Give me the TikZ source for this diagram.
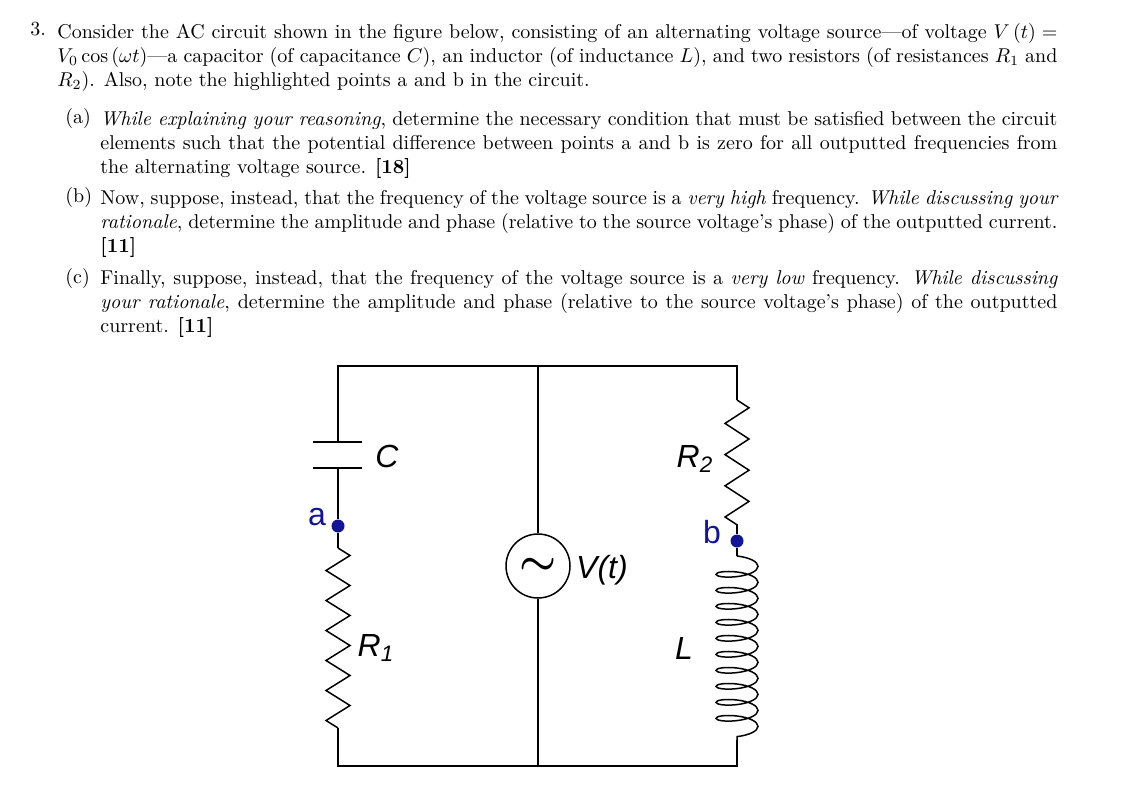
\documentclass[tikz,border=0pt]{standalone}
\usepackage{fontspec}
\usepackage{amsmath}
\newfontfamily\arialf{Liberation Sans}
\usetikzlibrary{decorations.pathmorphing,decorations.pathreplacing}
\definecolor{dotblue}{RGB}{20,20,150}
\begin{document}
\begin{tikzpicture}[x=0.5pt,y=-0.5pt,
  para/.style={anchor=north west,inner sep=0,align=justify,font=\normalsize},
  lbl/.style={font=\arialf\itshape\fontsize{16}{16}\selectfont,inner sep=0},
  ptl/.style={font=\arialf\fontsize{16}{16}\selectfont,text=dotblue,inner sep=0},
  wire/.style={line width=0.75pt},
  dot/.style={circle,fill=dotblue,inner sep=0,minimum size=6.5pt}]
\useasboundingbox (0,0) rectangle (1123,791);
% text
\node[anchor=base west,inner sep=0] (n3) at (30,36) {3.};
\node[para,text width=500pt] (intro) at (57,23) {Consider the AC circuit shown in the figure below, consisting of an alternating voltage source---of voltage $V\left(t\right)=$\linebreak $V_0\cos\left(\omega t\right)$---a capacitor (of capacitance $C$), an inductor (of inductance $L$), and two resistors (of resistances $R_1$ and\linebreak $R_2$). Also, note the highlighted points a and b in the circuit.};
\node[anchor=base west,inner sep=0] (la) at (65,124) {(a)};
\node[para,text width=478.5pt] (pa) at (100,111) {\textit{While explaining your reasoning}, determine the necessary condition that must be satisfied between the circuit\linebreak elements such that the potential difference between points a and b is zero for all outputted frequencies from\linebreak the alternating voltage source. \textbf{[18]}};
\node[anchor=base west,inner sep=0] (lb) at (65,203) {(b)};
\node[para,text width=478.5pt] (pb) at (100,190) {Now, suppose, instead, that the frequency of the voltage source is a \textit{very high} frequency. \textit{While discussing your\linebreak rationale}, determine the amplitude and phase (relative to the source voltage's phase) of the outputted current.\linebreak \textbf{[11]}};
\node[anchor=base west,inner sep=0] (lc) at (65,283) {(c)};
\node[para,text width=478.5pt] (pc) at (100,270) {Finally, suppose, instead, that the frequency of the voltage source is a \textit{very low} frequency. \textit{While discussing\linebreak your rationale}, determine the amplitude and phase (relative to the source voltage's phase) of the outputted\linebreak current. \textbf{[11]}};
% circuit
\coordinate (tl) at (338,366); \coordinate (tm) at (538,366); \coordinate (tr) at (737,366);
\coordinate (bl) at (338,766); \coordinate (bm) at (538,766); \coordinate (br) at (737,766);
\coordinate (c1) at (338,442); \coordinate (c2) at (338,468);
\node[dot] (a) at (338,526) {};
\node[dot] (b) at (737,541) {};
\coordinate (r1s) at (338,548); \coordinate (r1e) at (338,728);
\coordinate (r2s) at (737,400); \coordinate (r2e) at (737,525);
\coordinate (ls) at (737,556); \coordinate (le) at (737,740);
\node[circle,draw,line width=0.75pt,minimum size=32pt,inner sep=0] (src) at (538,566) {\fontsize{20}{20}\selectfont$\boldsymbol{\sim}$};
\draw[wire] (c1) -- (tl) -- (tm) -- (tr) -- (r2s);
\draw[wire] (tm) -- (src.north);
\draw[wire] (src.south) -- (bm);
\draw[wire] (r1e) -- (bl) -- (bm) -- (br) -- (le);
\draw[wire] (313,442) -- (362,442);
\draw[wire] (313,468) -- (362,468);
\draw[wire] (c2) -- (a) -- (r1s);
\draw[wire,decorate,decoration={zigzag,segment length=15pt,amplitude=6pt}] (r1s) -- (r1e);
\draw[wire,decorate,decoration={zigzag,segment length=15.6pt,amplitude=6pt}] (r2s) -- (r2e);
\draw[wire] (r2e) -- (b) -- (ls);
\draw[wire,decorate,decoration={coil,aspect=0.3,segment length=8pt,amplitude=10.5pt}] (ls) -- (le);
\node[lbl] (lC) at (387,456) {C};
\node[lbl] (lR1) at (376,648) {R$_{\text{1}}$};
\node[lbl] (lR2) at (695,459) {R$_{\text{2}}$};
\node[lbl] (lL) at (684,648) {L};
\node[lbl] (lV) at (602,570) {V(t)};
\node[ptl] (ta) at (317,517) {a};
\node[ptl] (tb) at (712,532) {b};
\end{tikzpicture}
\end{document}
